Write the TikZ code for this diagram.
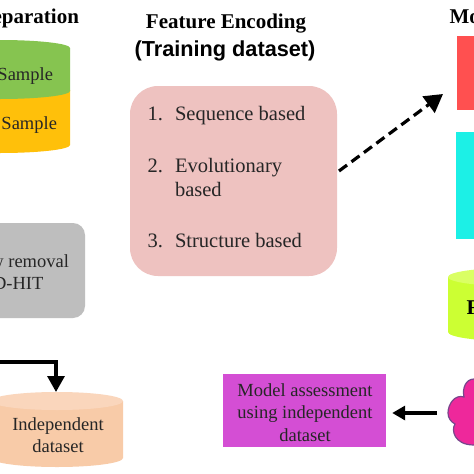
\documentclass[tikz,border=0pt]{standalone}
\usepackage{fontspec}
\setmainfont{Liberation Serif}
\setsansfont{Liberation Sans}
\usepackage{xcolor}
\usetikzlibrary{arrows.meta}
\definecolor{greenfig}{RGB}{134, 196, 80}
\definecolor{orangefig}{RGB}{255, 192, 10}
\definecolor{grayfig}{RGB}{190, 190, 190}
\definecolor{rosefig}{RGB}{238, 194, 192}
\definecolor{peachfig}{RGB}{248, 203, 168}
\definecolor{peachtop}{RGB}{250, 214, 188}
\definecolor{redfig}{RGB}{255, 80, 80}
\definecolor{cyanfig}{RGB}{28, 240, 230}
\definecolor{limefig}{RGB}{204, 255, 51}
\definecolor{limetop}{RGB}{218, 255, 100}
\definecolor{purplefig}{RGB}{212, 78, 212}
\definecolor{magentafig}{RGB}{238, 40, 155}
\definecolor{cloudline}{RGB}{120, 70, 140}
\tikzset{
    bodytext/.style={font=\fontsize{18.5}{22.5}\selectfont, text=black!85},
    listtext/.style={font=\fontsize{20.5}{24}\selectfont, text=black!85, anchor=base west},
    titletext/.style={font=\fontsize{21}{25}\selectfont\bfseries},
    solidarrow/.style={line width=3.2pt, color=black, -{Triangle[length=16pt,width=17pt]}},
    shortarrow/.style={line width=4pt, color=black, -{Triangle[length=13pt,width=14pt]}},
    dashedarrow/.style={line width=3.2pt, color=black, dash pattern=on 10pt off 5.5pt, -{Triangle[length=18pt,width=20pt]}}
}
% center x, top y of the body, x radius, y radius, body height, body colour, top colour
\newcommand{\drawdrum}[7]{
    \fill[#6] (#1-#3,#2) -- (#1-#3,#2+#5) arc[start angle=180, end angle=0, x radius=#3, y radius=#4] -- (#1+#3,#2) -- cycle;
    \fill[#7] (#1,#2) ellipse[x radius=#3, y radius=#4];
}
\begin{document}
\begin{tikzpicture}[x=1pt,y=-1pt]
        \useasboundingbox (0,0) rectangle (474,474);
        \clip (0,0) rectangle (474,474);
        \fill[white] (0,0) rectangle (474,474);

        % left column
        \node[titletext, anchor=east] (prep) at (82.5,18) {eparation};
        \drawdrum{0}{90}{70}{8}{55}{orangefig}{orangefig}
        \drawdrum{0}{48}{70}{8}{43}{greenfig}{greenfig}
        \node[bodytext, anchor=east] (possample) at (56.5,76) {Sample};
        \node[bodytext, anchor=east] (negsample) at (60.5,125) {Sample};
        \node[fill=grayfig, rounded corners=12pt, minimum width=125pt, minimum height=95pt, inner sep=0pt] (removal) at (22.5,270.5) {};
        \node[bodytext, anchor=east] (removaltop) at (72.5,261) {w removal};
        \node[bodytext, anchor=east] (removalbot) at (47,283) {D-HIT};
        \drawdrum{57}{401}{66}{9}{57}{peachfig}{peachtop}
        \node[bodytext, align=center] (indeptext) at (58,435) {Independent\\dataset};

        % feature encoding
        \node[titletext] (enctitle) at (226,24) {Feature Encoding};
        \node[font=\fontsize{21.7}{25}\selectfont\sffamily\bfseries] (traintitle) at (225,51) {(Training dataset)};
        \node[fill=rosefig, rounded corners=28pt, minimum width=207pt, minimum height=190pt, inner sep=0pt] (feature) at (233.5,181) {};
        \node[listtext] (numone) at (144,120) {1.};
        \node[listtext] (seqbased) at (171.5,120) {Sequence based};
        \node[listtext] (numtwo) at (144,172) {2.};
        \node[listtext] (evoa) at (171.5,172) {Evolutionary};
        \node[listtext] (evob) at (171.5,196) {based};
        \node[listtext] (numthree) at (144,247) {3.};
        \node[listtext] (strbased) at (171.5,247) {Structure based};

        % right column
        \node[titletext, anchor=west] (modtitle) at (446,17) {Mo};
        \node[fill=redfig, minimum width=40pt, minimum height=74pt, inner sep=0pt, anchor=north west] (redbox) at (457,36) {};
        \node[fill=cyanfig, minimum width=40pt, minimum height=107pt, inner sep=0pt, anchor=north west] (cyanbox) at (456,132) {};
        \drawdrum{510}{277}{62}{9}{55}{limefig}{limetop}
        \node[titletext, anchor=west] (limetext) at (463,308) {F};
        \draw[fill=magentafig, draw=cloudline, line width=1.2pt] (480,379) -- (474,379) .. controls (466,379) and (462,388) .. (464,397) .. controls (455,394) and (448,404) .. (448,413) .. controls (448,418) and (451,422) .. (455,424) .. controls (451,430) and (454,445) .. (474,445) -- (480,445) -- cycle;
        \node[fill=purplefig, minimum width=163pt, minimum height=73pt, inner sep=0pt] (assess) at (304.5,410.5) {};
        \node[bodytext, align=center] (assesstext) at (305,412.5) {Model assessment\\using independent\\dataset};

        \coordinate (elbow) at (-2,362);
        \coordinate (indeptop) at (56,392);
        \coordinate (dashstart) at (339,171);
        \coordinate (dashend) at (443,94);
        \coordinate (cloudwest) at (449,413);

        \draw[solidarrow] (elbow) -| (indeptop);
        \draw[dashedarrow] (dashstart) -- (dashend);
        \draw[shortarrow, shorten <=12pt, shorten >=6pt] (cloudwest) -- (cloudwest -| assess.east);

    \end{tikzpicture}
\end{document}
